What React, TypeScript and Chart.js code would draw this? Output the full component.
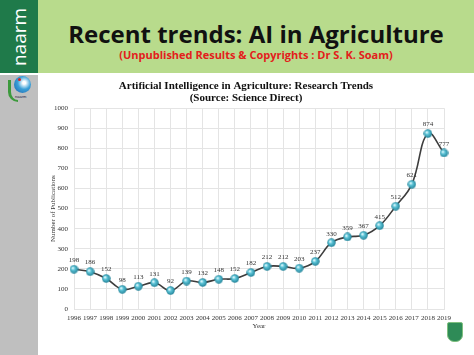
import React, { useEffect, useRef } from "react";
import { Chart, registerables } from "chart.js";

Chart.register(...registerables);

const years = ["1996","1997","1998","1999","2000","2001","2002","2003","2004","2005","2006","2007","2008","2009","2010","2011","2012","2013","2014","2015","2016","2017","2018","2019"];
const publications = [198,186,152,98,113,131,92,139,132,148,152,182,212,212,203,237,330,359,367,415,512,621,874,777];
const yMin = 0;
const yMax = 1000;
const yStep = 100;
const chartTitle = ["Artificial Intelligence in Agriculture: Research Trends", "(Source: Science Direct)"];
const xTitle = "Year";
const yTitle = "Number of Publications";

const SERIF = "'Liberation Serif', 'DejaVu Serif', serif";

function makeSphere(): HTMLCanvasElement {
  const c = document.createElement("canvas");
  c.width = 9;
  c.height = 9;
  const ctx = c.getContext("2d")!;
  const g = ctx.createRadialGradient(3.2, 3.2, 0.5, 4.5, 4.5, 4.5);
  g.addColorStop(0, "#d8f6fb");
  g.addColorStop(0.35, "#5cc3d6");
  g.addColorStop(1, "#1f7f95");
  ctx.fillStyle = g;
  ctx.beginPath();
  ctx.arc(4.5, 4.5, 4.2, 0, Math.PI * 2);
  ctx.fill();
  return c;
}

const dataLabels = {
  id: "dataLabels",
  afterDatasetsDraw(chart: any) {
    const ctx = chart.ctx;
    const meta = chart.getDatasetMeta(0);
    ctx.save();
    ctx.font = `7px ${SERIF}`;
    ctx.fillStyle = "#333";
    ctx.textAlign = "center";
    ctx.textBaseline = "middle";
    meta.data.forEach((pt: any, i: number) => {
      ctx.fillText(String(publications[i]), pt.x, pt.y - 9);
    });
    ctx.restore();
  },
};

function TrendChart() {
  const ref = useRef<HTMLCanvasElement>(null);
  useEffect(() => {
    const sphere = makeSphere();
    const chart = new Chart(ref.current!, {
      type: "line",
      data: {
        labels: years,
        datasets: [
          {
            data: publications,
            borderColor: "#3d3d3d",
            borderWidth: 1.6,
            tension: 0.4,
            pointStyle: sphere as any,
            pointRadius: 4,
            fill: false,
          },
        ],
      },
      options: {
        animation: false,
        responsive: false,
        maintainAspectRatio: false,
        layout: { padding: { left: 10, right: 30, top: 0, bottom: 25 } },
        plugins: {
          legend: { display: false },
          tooltip: { enabled: false },
          title: {
            display: true,
            text: chartTitle,
            color: "#111",
            font: { family: SERIF, size: 11, weight: "bold", lineHeight: 1.1 },
            padding: { top: 5, bottom: 4 },
          },
        },
        scales: {
          x: {
            offset: false,
            grid: { color: "#e4e4e4", drawTicks: false },
            border: { color: "#e4e4e4" },
            ticks: { color: "#333", font: { family: SERIF, size: 7 }, padding: 5, maxRotation: 0, autoSkip: false },
            title: { display: true, text: xTitle, color: "#333", font: { family: SERIF, size: 7 }, padding: 0 },
            afterFit: (s: any) => { s.height = 21; },
          },
          y: {
            min: yMin,
            max: yMax,
            grid: { color: "#e4e4e4", drawTicks: false },
            border: { color: "#e4e4e4" },
            ticks: {
              stepSize: yStep,
              color: "#333",
              font: { family: SERIF, size: 7 },
              padding: 6,
              callback: (v: any) => String(v),
            },
            title: { display: true, text: yTitle, color: "#333", font: { family: SERIF, size: 7 }, padding: { top: 1, bottom: 0 } },
            afterFit: (s: any) => { s.width = 26; },
          },
        },
      },
      plugins: [dataLabels],
    });
    return () => chart.destroy();
  }, []);
  return <canvas ref={ref} width={436} height={280} style={{ position: "absolute", left: 38, top: 75, width: 436, height: 280 }} />;
}

export default function App() {
  return (
    <div style={{ position: "fixed", left: 0, top: 0, width: 474, height: 355, overflow: "hidden", background: "#ffffff" }}>
      {/* header band */}
      <div style={{ position: "absolute", left: 38, top: 0, width: 436, height: 73, background: "#b8db8c" }} />
      {/* left sidebar */}
      <div style={{ position: "absolute", left: 0, top: 0, width: 38, height: 73, background: "#1f7a4a" }} />
      <div style={{ position: "absolute", left: 0, top: 75, width: 38, height: 280, background: "#bfbfbf" }} />
      <div
        style={{
          position: "absolute", left: 19, top: 37, transform: "translate(-50%, -50%) rotate(-90deg)",
          color: "#ffffff", fontFamily: "'Open Sans', sans-serif", fontSize: 19, lineHeight: "20px", whiteSpace: "nowrap",
        }}
      >naarm</div>
      {/* top-left logo */}
      <div style={{ position: "absolute", left: 14, top: 76, width: 17, height: 17, borderRadius: "50%", background: "radial-gradient(circle at 60% 40%, #ffffff 10%, #3aa0d8 45%, #1c5fa8 100%)" }} />
      <div style={{ position: "absolute", left: 8, top: 80, width: 7, height: 20, borderRadius: "0 0 0 10px", borderLeft: "3px solid #3c9a3c", borderBottom: "2px solid #3c9a3c" }} />
      <div style={{ position: "absolute", left: 18, top: 78, width: 3, height: 3, borderRadius: "50%", background: "#d22" }} />
      <div style={{ position: "absolute", left: 15, top: 95, fontSize: 4, color: "#224", fontFamily: "sans-serif", lineHeight: "4px" }}>naarm</div>
      {/* titles */}
      <div style={{ position: "absolute", left: 38, top: 17, width: 436, textAlign: "center", fontFamily: "'Open Sans', sans-serif", fontWeight: 700, fontSize: 24, lineHeight: "34px", color: "#111", whiteSpace: "nowrap" }}>
        Recent trends: AI in Agriculture
      </div>
      <div style={{ position: "absolute", left: 38, top: 47, width: 436, textAlign: "center", fontFamily: "'Open Sans', sans-serif", fontWeight: 700, fontSize: 11, lineHeight: "16px", color: "#e3201b", whiteSpace: "nowrap" }}>
        (Unpublished Results &amp; Copyrights : Dr S. K. Soam)
      </div>
      <TrendChart />
      {/* bottom-right logo */}
      <div style={{ position: "absolute", left: 447, top: 322, width: 14, height: 18, background: "#2e8b57", borderRadius: "2px 2px 7px 7px", border: "1px solid #7fbf7f" }} />
    </div>
  );
}
